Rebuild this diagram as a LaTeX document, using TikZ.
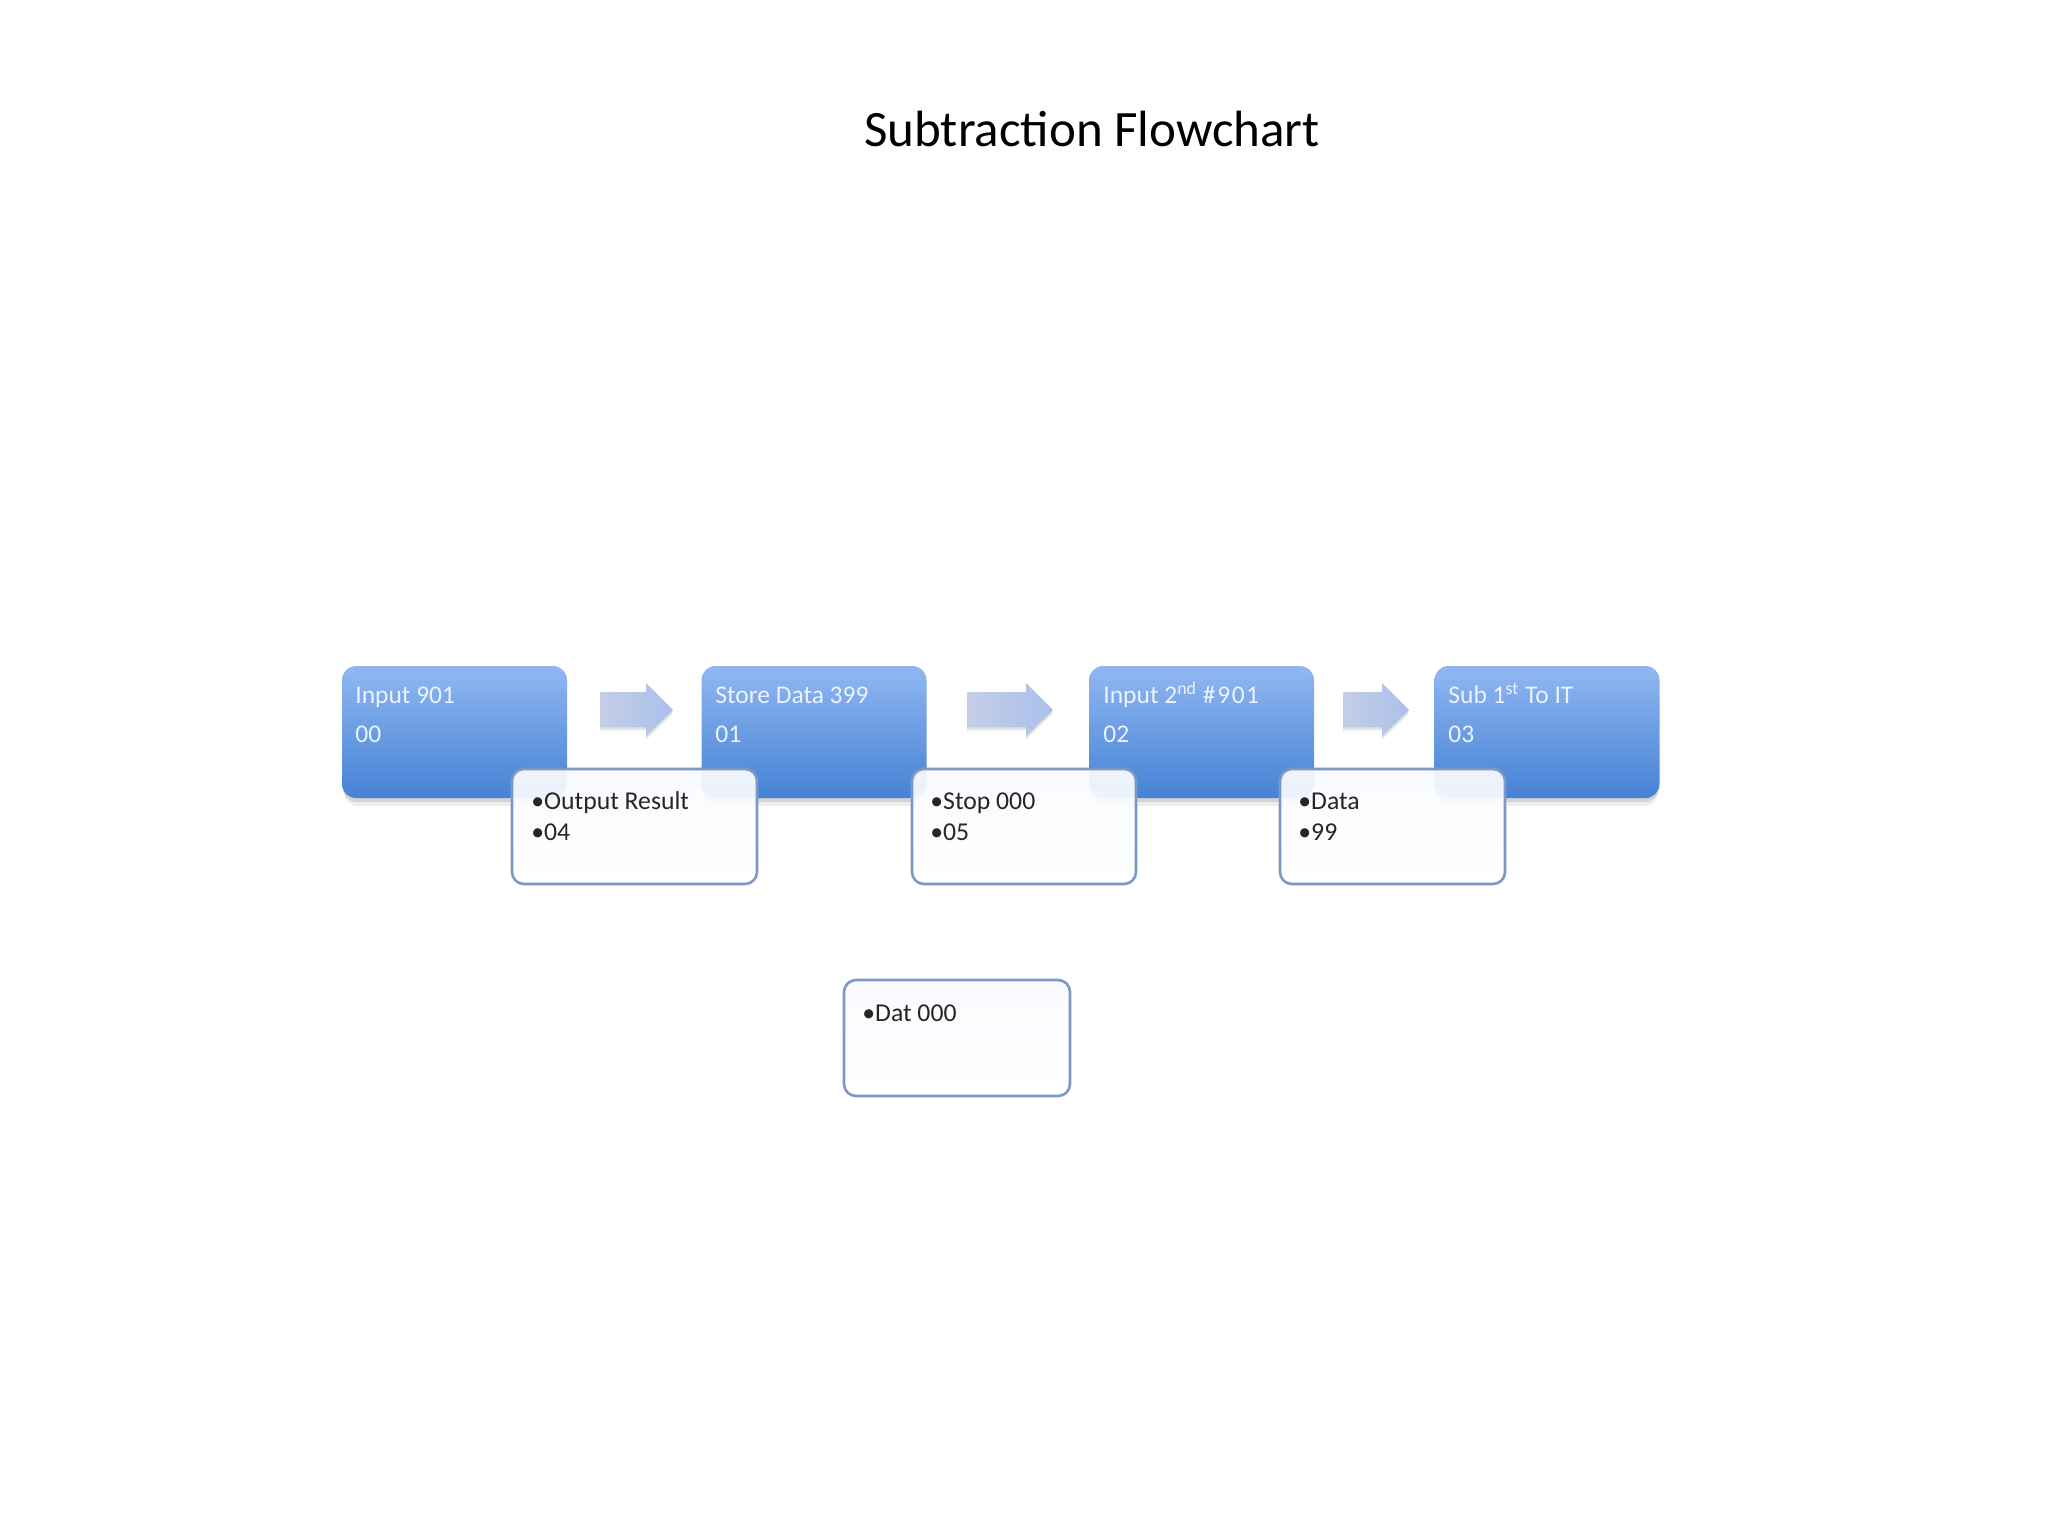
\documentclass[tikz,border=0pt]{standalone}
\usepackage{fontspec}
\setmainfont{Carlito}
\definecolor{bluetop}{RGB}{144,183,242}
\definecolor{bluebot}{RGB}{70,130,212}
\definecolor{btext}{RGB}{236,242,255}
\definecolor{wborder}{RGB}{125,152,198}
\definecolor{arrL}{RGB}{196,206,230}
\definecolor{arrR}{RGB}{170,192,236}
\tikzset{
  bluebox/.style={rounded corners=7pt, draw=none, minimum width=112.5pt, minimum height=66pt, inner sep=0pt,
    path picture={\shade[top color=bluetop, bottom color=bluebot]
      (path picture bounding box.north west) rectangle (path picture bounding box.south east);}},
  shadowA/.style={fill=black, opacity=0.07, rounded corners=7pt},
  shadowB/.style={fill=black, opacity=0.10, rounded corners=7pt},
  whitebox/.style={rounded corners=6pt, draw=wborder, line width=1.3pt, top color=white!94!bluetop, bottom color=white,
    fill opacity=0.93, minimum height=57.5pt, inner sep=0pt},
  btxt/.style={anchor=base west, text=btext, font=\fontsize{12.75pt}{15pt}\selectfont, inner sep=0pt},
  wtxt/.style={anchor=base west, text=black!85, font=\fontsize{12.85pt}{15pt}\selectfont, inner sep=0pt},
  blockarrow/.style={left color=arrL, right color=arrR, draw=none,
    preaction={fill=black, opacity=0.06, transform canvas={yshift=-2pt}},
    preaction={fill=black, opacity=0.08, transform canvas={yshift=-1pt}}},
}
\begin{document}
\begin{tikzpicture}[x=0.5pt,y=-0.5pt]
\useasboundingbox (0,0) rectangle (2048,1536);
\fill[white] (0,0) rectangle (2048,1536);

\node[anchor=base, font=\fontsize{25.5pt}{30pt}\selectfont, inner sep=0pt] (title) at (1092,147) {Subtraction Flowchart};

% block arrows
\path[blockarrow] (600,692) -- (646,692) -- (646,683) -- (673,710) -- (646,736) -- (646,727) -- (600,727) -- cycle;
\path[blockarrow] (967,692) -- (1026,692) -- (1026,683) -- (1053,710) -- (1026,736) -- (1026,727) -- (967,727) -- cycle;
\path[blockarrow] (1343,692) -- (1382,692) -- (1382,683) -- (1409,710) -- (1382,736) -- (1382,727) -- (1343,727) -- cycle;

% shadows under blue boxes
\fill[shadowA] (344,690) rectangle (565,806);
\fill[shadowB] (343,690) rectangle (566,802);
\fill[shadowA] (703,690) rectangle (925,806);
\fill[shadowB] (702,690) rectangle (926,802);
\fill[shadowA] (1091,690) rectangle (1312,806);
\fill[shadowB] (1090,690) rectangle (1313,802);
\fill[shadowA] (1436,690) rectangle (1658,806);
\fill[shadowB] (1435,690) rectangle (1659,802);

% blue boxes
\node[bluebox] (b1) at (454.5,732) {};
\node[bluebox] (b2) at (814,732) {};
\node[bluebox] (b3) at (1201.5,732) {};
\node[bluebox] (b4) at (1547,732) {};

\node[btxt] (t1a) at (355,703) {Input 901};
\node[btxt] (t1b) at (355,742) {00};
\node[btxt] (t2a) at (715,703) {Store Data 399};
\node[btxt] (t2b) at (715,742) {01};
\node[btxt] (t3a) at (1103,703) {Input 2\textsuperscript{nd} \#\kern1pt 9\kern0.7pt 0\kern0.7pt 1};
\node[btxt] (t3b) at (1103,742) {02};
\node[btxt] (t4a) at (1448,703) {Sub 1\textsuperscript{st} To IT};
\node[btxt] (t4b) at (1448,742) {03};

% white boxes
\node[whitebox, minimum width=122.5pt] (w1) at (634.5,826.5) {};
\node[whitebox, minimum width=112pt] (w2) at (1024,826.5) {};
\node[whitebox, minimum width=112.5pt] (w3) at (1392.5,826.5) {};
\node[whitebox, minimum width=113pt, minimum height=58pt] (w4) at (957,1038) {};

\node[wtxt] (u1a) at (531,809) {•Output Result};
\node[wtxt] (u1b) at (531,840) {•04};
\node[wtxt] (u2a) at (930,809) {•Stop 000};
\node[wtxt] (u2b) at (930,840) {•05};
\node[wtxt] (u3a) at (1298,809) {•Data};
\node[wtxt] (u3b) at (1298,840) {•99};
\node[wtxt] (u4a) at (862,1021) {•Dat 000};
\end{tikzpicture}
\end{document}
